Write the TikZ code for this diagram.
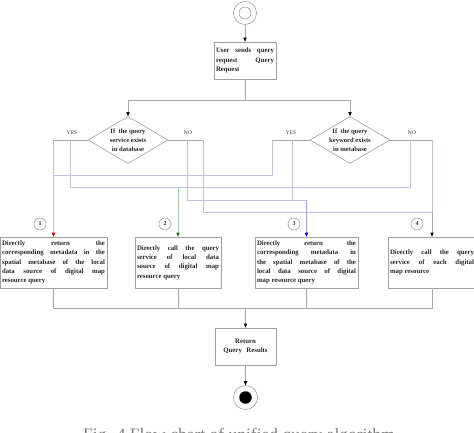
\documentclass[tikz,border=0pt]{standalone}
\usepackage{fontspec}
\setmainfont{Liberation Serif}
\usetikzlibrary{shapes.geometric,arrows.meta}
\definecolor{ml}{HTML}{A8A8A8}
\definecolor{lv}{HTML}{C2C2DA}
\definecolor{bd}{HTML}{A0A0A0}
\definecolor{pk}{HTML}{EAB0BA}
\definecolor{gnl}{HTML}{A4D0A4}
\definecolor{bll}{HTML}{A4A4E4}
\begin{document}
\begin{tikzpicture}[x=1pt,y=-1pt,
  line width=0.6pt,
  main/.style={draw=ml},
  lav/.style={draw=lv},
  arr/.style={-{Triangle[length=4pt,width=3.2pt,color=#1]}},
  arr/.default=black,
  box/.style={draw=bd,fill=white,inner sep=2pt,minimum height=51pt,align=justify,
    font=\bfseries\fontsize{6.8}{9.4}\selectfont,text=black!85},
  smallbox/.style={draw=bd,fill=white,inner sep=2pt,minimum height=37pt,
    font=\bfseries\fontsize{6.8}{9.4}\selectfont,text=black!85},
  dia/.style={draw=bd,diamond,minimum width=80pt,minimum height=47pt,inner sep=0pt},
  diatext/.style={align=center,inner sep=0pt,font=\bfseries\fontsize{6.6}{9}\selectfont,text=black!85},
  yn/.style={font=\fontsize{5.6}{6}\selectfont,text=black!75,inner sep=0pt},
  num/.style={draw=bd,circle,minimum size=12pt,inner sep=0pt,font=\bfseries\fontsize{6}{6}\selectfont,text=black!80}
]
\useasboundingbox (0,0) rectangle (474,433);
\clip (0,0) rectangle (474,433);
\hyphenpenalty=10000
\exhyphenpenalty=10000

% start and end
\node[draw=bd,circle,minimum size=23pt,inner sep=0pt] (start) at (245,13) {};
\node[draw=bd,circle,minimum size=12pt,inner sep=0pt] (startin) at (start) {};

\node[smallbox,align=justify,text width=58pt] (user) at (245,60.5) {User sends query\linebreak request Query\linebreak Request};

\node[dia] (d1) at (128,140) {};
\node[diatext] (d1t) at (d1) {If~ the query\\service exists\\in database};
\node[dia] (d2) at (350,140) {};
\node[diatext] (d2t) at (d2) {If~ the query\\keyword exists\\in metabase};

\node[yn] (y1) at (72,133) {YES};
\node[yn] (n1) at (188,133) {NO};
\node[yn] (y2) at (291,133) {YES};
\node[yn] (n2) at (412,133) {NO};

\node[box,text width=103pt] (b1) at (53.5,262.5) {Directly return the\linebreak corresponding metadata in the\linebreak spatial metabase of the local\linebreak data source of digital map\linebreak resource query};
\node[box,text width=82pt] (b2) at (178,262.5) {Directly call the query\linebreak service of local data\linebreak source of digital map\linebreak resource query};
\node[box,text width=99pt] (b3) at (306.5,262.5) {Directly return the\linebreak corresponding metadata in\linebreak the spatial metabase of the\linebreak local data source of digital\linebreak map resource query};
\node[box,text width=84pt] (b4) at (432,262.5) {Directly call the query\linebreak service of each digital\linebreak map resource};

\node[num] (c1) at (40,224) {1};
\node[num] (c2) at (165,224) {2};
\node[num] (c3) at (294,224) {3};
\node[num] (c4) at (417,224) {4};

\node[smallbox,text width=57pt,align=center] (ret) at (245.5,346.5) {Return\\Query~ Results};

\node[draw=bd,circle,minimum size=24pt,inner sep=0pt] (endc) at (245.5,397.5) {};
\node[fill=black,circle,minimum size=12.5pt,inner sep=0pt] (endin) at (endc) {};

% top connectors
\coordinate (jtop) at (245,100);
\draw[main,arr] (start) -- (user);
\draw[main] (user.south) -- (jtop);
\draw[main,arr] (jtop) -| (d1.north);
\draw[main,arr] (jtop) -| (d2.north);

% branch coordinates
\coordinate (yA) at (b1.north |- d1.west);
\coordinate (yB) at (70,140);
\coordinate (yB2) at (70,187);
\coordinate (g1) at (b2.north |- yB2);
\coordinate (nA) at (187,140);
\coordinate (nA2) at (187,200);
\coordinate (bl1) at (b3.north |- nA2);
\coordinate (nB) at (203,140);
\coordinate (nB2) at (203,212);
\coordinate (k1) at (b4.north |- nB2);
\coordinate (ry1) at (272,140);
\coordinate (ry1b) at (272,175);
\coordinate (p1) at (yA |- ry1b);
\coordinate (ry2) at (292,140);
\coordinate (ry2b) at (292,200);
\coordinate (rn1) at (410,140);
\coordinate (rn1b) at (410,187);
\coordinate (rn2) at (b4.north |- d2.east);

% left diamond
\draw[main] (d1.west) -- (yA);
\draw[draw=pk,arr=red!85!black] (yA) -- (b1.north);
\draw[lav] (yB) -- (yB2) -- (g1);
\draw[draw=gnl,arr=green!45!black] (g1) -- (b2.north);
\draw[main] (d1.east) -- (nB);
\draw[lav] (nA) -- (nA2) -- (bl1);
\draw[draw=bll,arr=blue!85!black] (bl1) -- (b3.north);
\draw[lav] (nB) -- (nB2) -- (k1);
\draw[main,arr] (k1) -- (b4.north);

% right diamond
\draw[main] (d2.west) -- (ry1);
\draw[lav] (ry1) -- (ry1b) -- (p1);
\draw[lav] (ry2) -- (ry2b);
\draw[main] (d2.east) -- (rn2);
\draw[lav] (rn1) -- (rn1b) -- (g1);
\draw[lav] (rn2) -- (k1);

% bottom merge
\coordinate (mid) at (245.5,308);
\coordinate (m1) at (b1.south |- mid);
\coordinate (m2) at (b2.south |- mid);
\coordinate (m3) at (b3.south |- mid);
\coordinate (m4) at (b4.south |- mid);
\draw[main] (b1.south) -- (m1) -- (m4) -- (b4.south);
\draw[main] (b2.south) -- (m2);
\draw[main] (b3.south) -- (m3);
\draw[main,arr] (mid) -- (ret.north);
\draw[main,arr] (ret.south) -- (endc.north);

% caption (cut by the lower edge)
\node[anchor=base,inner sep=0pt,font=\fontsize{17.5}{17.5}\selectfont,text=black!50] (cap) at (239,440) {Fig. 4 Flow chart of unified query algorithm};
\end{tikzpicture}
\end{document}
